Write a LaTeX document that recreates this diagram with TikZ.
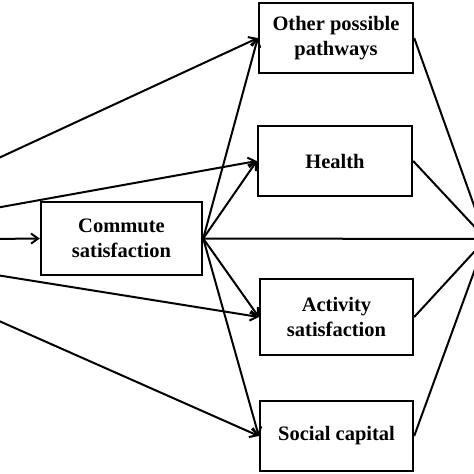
\documentclass[tikz,border=0pt]{standalone}
\usepackage{fontspec}
\setmainfont{Liberation Serif}
\usetikzlibrary{arrows.meta}

\tikzset{
	box/.style={draw, line width=2.4pt, align=center, inner sep=0pt,
		font=\fontsize{20.5}{25}\selectfont\bfseries},
	link/.style={line width=2pt, -{Straight Barb[length=7pt,width=10pt,line width=2pt]}}
}

\begin{document}
\begin{tikzpicture}[x=1pt,y=-1pt]
		\useasboundingbox (0,0) rectangle (474,474);

		\node[box, minimum width=161pt, minimum height=73pt] (comm) at (121.5,238.5) {Commute\\satisfaction};
		\node[box, minimum width=154pt, minimum height=70pt] (other) at (336,38) {Other possible\\pathways};
		\node[box, minimum width=154pt, minimum height=70pt] (health) at (335,161) {Health};
		\node[box, minimum width=153pt, minimum height=76pt] (activ) at (336.5,317) {Activity\\satisfaction};
		\node[box, minimum width=153pt, minimum height=70pt] (social) at (336.5,436) {Social capital};

		% free ends, cut off by the page
		\coordinate (inA) at (-10,162);
		\coordinate (inB) at (-10,209);
		\coordinate (inC) at (-10,239);
		\coordinate (inD) at (-10,274);
		\coordinate (inE) at (-10,317);
		\coordinate (out) at (486,239);

		\draw[link] (inA) -- (other.west);
		\draw[link] (inB) -- (health.west);
		\draw[link] (inC) -- (comm.west);
		\draw[link] (inD) -- (activ.west);
		\draw[link] (inE) -- (social.west);

		\draw[link] (comm.east) -- (other.west);
		\draw[link] (comm.east) -- (health.west);
		\draw[link] (comm.east) -- (activ.west);
		\draw[link] (comm.east) -- (social.west);
		\draw[link] (comm.east) -- (out);

		\draw[link] (other.east) -- (out);
		\draw[link] (health.east) -- (out);
		\draw[link] (activ.east) -- (out);
		\draw[link] (social.east) -- (out);

		\end{tikzpicture}
\end{document}
